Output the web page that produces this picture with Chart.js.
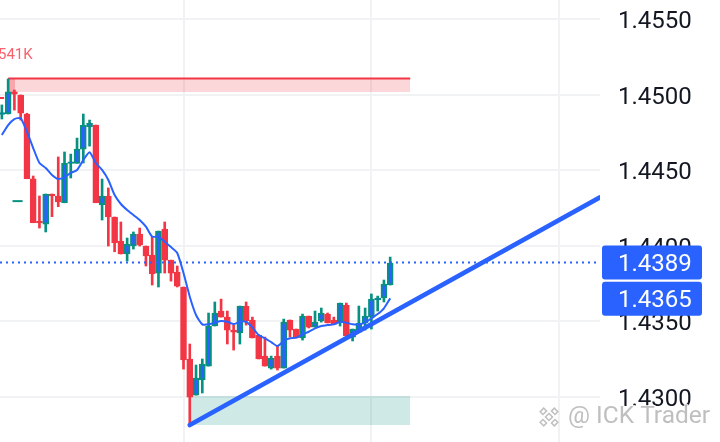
<!DOCTYPE html>
<html>
<head>
<meta charset="utf-8">
<title>ICK Trader chart</title>
<script src="https://cdn.jsdelivr.net/npm/chart.js@4"></script>
<style>
  html, body { margin: 0; padding: 0; background: #ffffff; overflow: hidden; }
  canvas { display: block; }
</style>
</head>
<body>
<canvas id="priceChart" width="720" height="442"></canvas>
<script>
// Candle values, oldest first
const opens = [1.44870,1.44872,1.45018,1.44998,1.44872,1.44444,1.44162,1.44144,1.44343,1.44330,1.44285,1.44546,1.44546,1.44640,1.44788,1.44799,1.44272,1.44330,1.44191,1.44032,1.43946,1.43999,1.44078,1.43999,1.43939,1.43820,1.44111,1.43906,1.43827,1.43728,1.43252,1.43013,1.43113,1.43205,1.43470,1.43569,1.43529,1.43443,1.43424,1.43602,1.43510,1.43410,1.43271,1.43192,1.43271,1.43192,1.43510,1.43450,1.43391,1.43536,1.43463,1.43503,1.43549,1.43510,1.43496,1.43609,1.43397,1.43430,1.43490,1.43529,1.43642,1.43655,1.43741];
const highs = [1.44932,1.45104,1.45031,1.44998,1.44877,1.44462,1.44330,1.44343,1.44343,1.44588,1.44621,1.44607,1.44713,1.44872,1.44832,1.44799,1.44442,1.44383,1.44191,1.44158,1.44052,1.44092,1.44118,1.43999,1.44058,1.44098,1.44158,1.43906,1.43867,1.43728,1.43351,1.43212,1.43252,1.43556,1.43629,1.43648,1.43569,1.43476,1.43602,1.43629,1.43529,1.43410,1.43397,1.43271,1.43338,1.43516,1.43510,1.43450,1.43549,1.43536,1.43569,1.43589,1.43556,1.43529,1.43622,1.43622,1.43450,1.43602,1.43589,1.43682,1.43668,1.43774,1.43926];
const lows = [1.44839,1.44872,1.44898,1.44832,1.44444,1.44153,1.44118,1.44092,1.44193,1.44259,1.44285,1.44449,1.44546,1.44548,1.44660,1.44285,1.44171,1.43999,1.43961,1.43946,1.43900,1.43979,1.43999,1.43867,1.43741,1.43728,1.43820,1.43767,1.43728,1.43185,1.42815,1.43013,1.43027,1.43205,1.43470,1.43529,1.43351,1.43311,1.43351,1.43476,1.43391,1.43252,1.43205,1.43185,1.43179,1.43192,1.43397,1.43391,1.43377,1.43457,1.43463,1.43496,1.43490,1.43483,1.43470,1.43404,1.43371,1.43430,1.43443,1.43450,1.43569,1.43629,1.43741];
const closes = [1.44881,1.45018,1.45004,1.44877,1.44444,1.44153,1.44151,1.44343,1.44330,1.44290,1.44546,1.44555,1.44640,1.44797,1.44811,1.44285,1.44330,1.44191,1.44019,1.43946,1.44012,1.44078,1.44006,1.43933,1.43814,1.44098,1.43906,1.43820,1.43734,1.43245,1.43000,1.43126,1.43218,1.43470,1.43556,1.43529,1.43443,1.43430,1.43602,1.43503,1.43391,1.43252,1.43205,1.43258,1.43192,1.43496,1.43443,1.43391,1.43536,1.43463,1.43496,1.43556,1.43490,1.43483,1.43622,1.43404,1.43450,1.43490,1.43536,1.43648,1.43655,1.43748,1.43887];
const emaValues = [1.44733,1.44799,1.44839,1.44844,1.44755,1.44647,1.44548,1.44515,1.44469,1.44442,1.44455,1.44482,1.44502,1.44568,1.44619,1.44548,1.44502,1.44436,1.44336,1.44277,1.44237,1.44204,1.44171,1.44127,1.44061,1.44061,1.44027,1.43992,1.43953,1.43820,1.43664,1.43543,1.43481,1.43481,1.43492,1.43503,1.43498,1.43483,1.43498,1.43498,1.43461,1.43410,1.43389,1.43364,1.43338,1.43371,1.43389,1.43393,1.43415,1.43432,1.43455,1.43470,1.43476,1.43481,1.43498,1.43492,1.43481,1.43481,1.43492,1.43521,1.43549,1.43587,1.43653];

// Axis and drawing values
const priceTicks = [1.43, 1.435, 1.44, 1.445, 1.45, 1.455];
const timeTicks = [29, 59, 89];
const barMin = -0.3;
const barMax = 95.5;
const priceMin = 1.42703;
const priceMax = 1.45626;
const trendBars = [30, 95.5];
const trendPrices = [1.42815, 1.44321];
const lastPrice = 1.4389;
const priceTags = [1.4389, 1.4365];
const sellZone = { from: 1, to: 65.2, top: 1.45107, bottom: 1.45018 };
const sellZoneEdge = { from: 1.1, to: 2.1, top: 1.45107, bottom: 1.45018 };
const buyZone = { from: 30, to: 65.2, top: 1.43007, bottom: 1.42815 };
const greenDashBars = [1.7, 3.3];
const greenDashPrice = 1.44296;
const redDashBars = [-0.3, 0.35];
const redDashPrice = 1.44978;
const volumeLabel = "541K";
const watermarkText = "@ ICK Trader";

const RED = "#f23645";
const GREEN = "#089080";
const BLUE = "#2962ff";
const GRID = "#f1f2f4";

const bars = opens.map((_, i) => i);
const isUp = opens.map((open, i) => closes[i] >= open);

function zoneDataset(zone, fillColor, lineColor, order) {
  return {
    type: "line",
    data: [{ x: zone.from, y: zone.top }, { x: zone.to, y: zone.top }],
    borderColor: lineColor,
    borderWidth: lineColor ? 2 : 0,
    backgroundColor: fillColor,
    fill: { value: zone.bottom },
    pointRadius: 0,
    order: order,
  };
}

function dashDataset(dashBars, price, color) {
  return {
    type: "line",
    data: dashBars.map((x) => ({ x: x, y: price })),
    borderColor: color,
    borderWidth: 2,
    pointRadius: 0,
    order: 4,
  };
}

// Tags, volume text and watermark sit outside anything a dataset can draw
const overlayPlugin = {
  id: "overlay",
  afterDatasetsDraw(chart) {
    const { ctx } = chart;
    const y = chart.scales.y;
    ctx.save();

    ctx.font = "15px Roboto";
    ctx.fillStyle = "#f8636e";
    ctx.textAlign = "left";
    ctx.textBaseline = "middle";
    ctx.fillText(volumeLabel, -2, 55);

    ctx.font = "24px Roboto";
    priceTags.forEach((price) => {
      const py = y.getPixelForValue(price);
      ctx.fillStyle = BLUE;
      ctx.beginPath();
      ctx.roundRect(y.left + 2, py - 17, 100, 34, 3);
      ctx.fill();
      ctx.fillStyle = "#ffffff";
      ctx.fillText(price.toFixed(4), y.left + 18, py + 2);
    });

    // Watermark: exchange logo as hollow diamonds, then the handle
    ctx.strokeStyle = "rgba(175,175,175,0.8)";
    ctx.lineWidth = 1.5;
    ctx.translate(549, 417);
    ctx.rotate(Math.PI / 4);
    [[-2.5, -2.5, 5, 5], [-10, -2.5, 4, 5], [6, -2.5, 4, 5], [-2.5, -10, 5, 4], [-2.5, 6, 5, 4]].forEach((r) => {
      ctx.strokeRect(r[0], r[1], r[2], r[3]);
    });
    ctx.rotate(-Math.PI / 4);
    ctx.translate(-549, -417);

    ctx.font = "24.5px Roboto";
    ctx.strokeStyle = "rgba(255,255,255,0.8)";
    ctx.lineWidth = 2;
    ctx.strokeText(watermarkText, 568, 417);
    ctx.fillStyle = "rgba(170,170,170,0.75)";
    ctx.fillText(watermarkText, 568, 417);
    ctx.restore();
  },
};

new Chart(document.getElementById("priceChart").getContext("2d"), {
  type: "bar",
  data: {
    datasets: [
      zoneDataset(buyZone, "rgba(8,144,128,0.2)", null, 9),
      zoneDataset(sellZone, "rgba(242,54,69,0.2)", RED, 8),
      zoneDataset(sellZoneEdge, "rgba(242,54,69,0.3)", null, 7),
      {
        // wicks
        data: bars.map((i) => ({ x: i, y: [lows[i], highs[i]] })),
        backgroundColor: bars.map((i) => (isUp[i] ? GREEN : RED)),
        barThickness: 2,
        grouped: false,
        order: 6,
      },
      {
        // bodies; up candles show a blue core inside a green edge
        data: bars.map((i) => ({ x: i, y: [opens[i], closes[i]] })),
        backgroundColor: bars.map((i) => (isUp[i] ? BLUE : RED)),
        borderColor: bars.map((i) => (isUp[i] ? GREEN : RED)),
        borderWidth: 2,
        borderSkipped: false,
        barThickness: 6,
        grouped: false,
        order: 5,
      },
      dashDataset(greenDashBars, greenDashPrice, GREEN),
      dashDataset(redDashBars, redDashPrice, RED),
      {
        type: "line",
        data: bars.map((i) => ({ x: i, y: emaValues[i] })),
        borderColor: BLUE,
        borderWidth: 2,
        pointRadius: 0,
        tension: 0.2,
        order: 3,
      },
      {
        type: "line",
        data: trendBars.map((x, i) => ({ x: x, y: trendPrices[i] })),
        borderColor: BLUE,
        borderWidth: 4.5,
        borderCapStyle: "round",
        pointRadius: 0,
        order: 2,
      },
      {
        type: "line",
        data: [{ x: barMin, y: lastPrice }, { x: barMax - 0.5, y: lastPrice }],
        borderColor: BLUE,
        borderWidth: 2,
        borderDash: [2, 4],
        pointRadius: 0,
        order: 1,
      },
    ],
  },
  options: {
    responsive: false,
    animation: false,
    layout: { padding: 0 },
    plugins: { legend: { display: false }, tooltip: { enabled: false } },
    scales: {
      x: {
        type: "linear",
        offset: false,
        min: barMin,
        max: barMax,
        afterBuildTicks: (axis) => { axis.ticks = timeTicks.map((v) => ({ value: v })); },
        ticks: { display: false },
        border: { display: false },
        grid: { color: GRID, lineWidth: 2, drawTicks: false, offset: false },
      },
      y: {
        position: "right",
        min: priceMin,
        max: priceMax,
        afterBuildTicks: (axis) => { axis.ticks = priceTicks.map((v) => ({ value: v })); },
        afterFit: (axis) => {
          // chart runs the full canvas height; labels don't need their own margin
          axis.width = 120;
          axis.paddingTop = 0;
          axis.paddingBottom = 0;
        },
        ticks: {
          padding: 18,
          labelOffset: 3,
          color: "#131722",
          font: { family: "Roboto", size: 24 },
          callback: (value) => value.toFixed(4),
        },
        border: { display: false },
        grid: { color: GRID, lineWidth: 2, drawTicks: false },
      },
    },
  },
  plugins: [overlayPlugin],
});
</script>
</body>
</html>
